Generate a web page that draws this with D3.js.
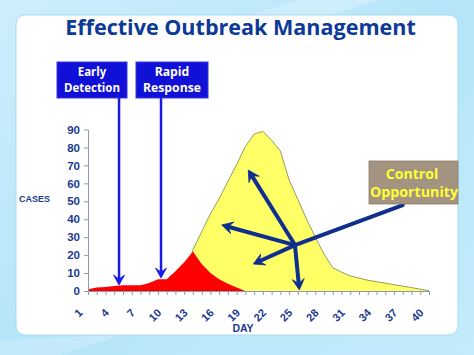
<!DOCTYPE html>
<html><head><meta charset="utf-8">
<script src="https://cdn.jsdelivr.net/npm/d3@7"></script>
<style>
html,body{margin:0;padding:0;overflow:hidden;background:#bfe8f9;}
svg{display:block;}
</style>
</head><body>
<svg id="chart" width="474" height="355"></svg>
<script>
// ---------------- DATA ----------------
const days = [1,2,3,4,5,6,7,8,9,10,11,12,13,14,15,16,17,18,19,20,
              21,22,23,24,25,26,27,28,29,30,31,32,33,34,35,36,37,38,39,40];
// red: cases with early detection & rapid response
const controlledCases = [1,2,2.2,2.8,3.2,3.2,3.2,4.4,6.5,6.5,11,16,22,15,10,6.5,4,2,0,0,
                         0,0,0,0,0,0,0,0,0,0,0,0,0,0,0,0,0,0,0,0];
// yellow: uncontrolled outbreak (hidden under red before day 13)
const uncontrolledCases = [0,0,0,0,0,0,0,0,0,0,0,0,23,33,43,51.5,61,70.5,80.5,87.5,
                           89,84,78,62,51,40,30,20.5,13,10.5,8.4,7.2,6,5.2,4.4,3.5,2.7,1.9,1,0.2];
const yTicks = [0,10,20,30,40,50,60,70,80,90];
const xTickLabels = [1,4,7,10,13,16,19,22,25,28,31,34,37,40];
const titleText = "Effective Outbreak Management";
const earlyDetection = {day:4.55, value:3.3, lines:["Early","Detection"]};
const rapidResponse  = {day:9.35, value:7.2, lines:["Rapid","Response"]};
const controlHub = {day:24.67, value:25.6};
const controlTips = [
  {day:19.33, value:67.4},
  {day:16.29, value:36.8},
  {day:19.90, value:15.05},
  {day:25.17, value:0.56}
];
const controlSource = {day:37.0, value:47.9};
const controlLabel = ["Control","Opportunity"];

// ---------------- SETUP ----------------
const svg = d3.select("#chart");
const navy = "#1b3a8f";
const defs = svg.append("defs");
const bg = defs.append("linearGradient").attr("id","bgGrad")
  .attr("x1","0").attr("y1","0").attr("x2","1").attr("y2","1");
bg.append("stop").attr("offset","0").attr("stop-color","#cdeefc");
bg.append("stop").attr("offset","0.5").attr("stop-color","#b5e5f9");
bg.append("stop").attr("offset","1").attr("stop-color","#c3ebfb");

svg.append("rect").attr("width",474).attr("height",355).attr("fill","url(#bgGrad)");
// soft highlight bands
svg.append("path").attr("d","M300,0 L380,0 L330,15 L250,15 Z").attr("fill","#ffffff").attr("opacity",0.25);
svg.append("path").attr("d","M0,340 L120,335 L60,355 L0,355 Z").attr("fill","#ffffff").attr("opacity",0.2);
// white panel
svg.append("rect").attr("x",16).attr("y",15).attr("width",442).attr("height",320)
  .attr("rx",9).attr("fill","#ffffff").attr("stroke","#a9d9ee").attr("stroke-width",1);

function fitText(sel, target){
  const n = sel.node();
  const fs = parseFloat(sel.attr("font-size"));
  const w = n.getComputedTextLength();
  if (w>0) sel.attr("font-size", fs*target/w);
  return sel;
}

// Title
const title = svg.append("text").attr("x",240.5).attr("y",35).attr("text-anchor","middle")
  .attr("font-family","'Open Sans','Noto Sans',sans-serif").attr("font-weight","bold")
  .attr("font-size",22).attr("fill","#0d3a96").text(titleText);
fitText(title, 351);

// ---------------- SCALES ----------------
const x = d3.scaleLinear().domain([1,40]).range([88,429]);
const y = d3.scaleLinear().domain([0,90]).range([291,129.5]);

// ---------------- AREAS ----------------
const yellowArea = d3.area().x((d,i)=>x(days[i])).y0(y(0)).y1(d=>y(d));
const yellowLine = d3.line().x((d,i)=>x(days[i])).y(d=>y(d));
svg.append("path").datum(uncontrolledCases).attr("d",yellowArea).attr("fill","#ffff66");
svg.append("path").datum(uncontrolledCases).attr("d",yellowLine).attr("fill","none")
  .attr("stroke","#8c8c5a").attr("stroke-width",0.9);
svg.append("path").datum(controlledCases).attr("d",yellowArea).attr("fill","#ff0000");

// ---------------- AXES ----------------
const axisColor = "#8d99ad";
const yAxis = svg.append("g").attr("transform",`translate(${x(1)},0)`)
  .call(d3.axisLeft(y).tickValues(yTicks).tickSize(4).tickSizeOuter(0).tickPadding(4));
yAxis.select(".domain").attr("stroke",axisColor);
yAxis.selectAll(".tick line").attr("stroke",axisColor);
yAxis.selectAll(".tick text").attr("fill",navy)
  .attr("font-family","'Liberation Sans',Arial,sans-serif").attr("font-weight","bold")
  .attr("font-size",11.5).attr("x",-8);

const xAxis = svg.append("g").attr("transform",`translate(0,${y(0)})`)
  .call(d3.axisBottom(x).tickValues(days).tickSize(4).tickSizeOuter(0)
        .tickFormat(d=> xTickLabels.includes(d) ? String(d) : ""));
xAxis.select(".domain").attr("stroke",axisColor);
xAxis.selectAll(".tick line").attr("stroke",axisColor);
xAxis.selectAll(".tick text").attr("fill",navy)
  .attr("font-family","'Liberation Sans',Arial,sans-serif").attr("font-weight","bold")
  .attr("font-size",11).attr("text-anchor","end")
  .attr("x",0).attr("y",0).attr("dy","0.8em")
  .attr("transform","translate(-11.4,16.3) rotate(-45)");

svg.append("text").attr("x",243).attr("y",332).attr("text-anchor","middle")
  .attr("font-family","'Liberation Sans',Arial,sans-serif").attr("font-weight","bold")
  .attr("font-size",10.5).attr("fill",navy).text("DAY");
const cases = svg.append("text").attr("x",34.5).attr("y",202).attr("text-anchor","middle")
  .attr("font-family","'Liberation Sans',Arial,sans-serif").attr("font-weight","bold")
  .attr("font-size",10).attr("fill",navy).text("CASES");
fitText(cases, 31);

// ---------------- ARROWS ----------------
function arrow(x1,y1,x2,y2,color,w,hl,hw){
  const dx=x2-x1, dy=y2-y1, L=Math.hypot(dx,dy), ux=dx/L, uy=dy/L, nx=-uy, ny=ux;
  const bx=x2-ux*hl, by=y2-uy*hl;
  const nxp=x2-ux*hl*0.6, nyp=y2-uy*hl*0.6;
  svg.append("line").attr("x1",x1).attr("y1",y1).attr("x2",nxp).attr("y2",nyp)
    .attr("stroke",color).attr("stroke-width",w);
  svg.append("path").attr("d",`M${x2},${y2} L${bx+nx*hw/2},${by+ny*hw/2} L${nxp},${nyp} L${bx-nx*hw/2},${by-ny*hw/2} Z`)
    .attr("fill",color).attr("stroke",color).attr("stroke-width",0.8).attr("stroke-linejoin","round");
}

// Early detection / rapid response boxes
function blueBox(bx,bw,info,textW){
  svg.append("rect").attr("x",bx).attr("y",62).attr("width",bw).attr("height",36)
    .attr("fill","#1010d6").attr("stroke","#3a3ae8").attr("stroke-width",1);
  const cx = bx+bw/2;
  const t1 = svg.append("text").attr("x",cx).attr("y",75.5).attr("text-anchor","middle")
    .attr("font-family","'Open Sans','Noto Sans',sans-serif").attr("font-weight","bold")
    .attr("font-size",11).attr("fill","#ffffff").text(info.lines[0]);
  const t2 = svg.append("text").attr("x",cx).attr("y",91.5).attr("text-anchor","middle")
    .attr("font-family","'Open Sans','Noto Sans',sans-serif").attr("font-weight","bold")
    .attr("font-size",11).attr("fill","#ffffff").text(info.lines[1]);
  fitText(t2, textW);
  t1.attr("font-size", t2.attr("font-size"));
  arrow(x(info.day),98,x(info.day),y(info.value),"#1a1ae6",2.5,10,11);
}
blueBox(57,70,earlyDetection,56);
blueBox(136,72,rapidResponse,58);

// control opportunity arrows
const dark = "#0f2f8e";
const hx = x(controlHub.day), hy = y(controlHub.value);
svg.append("line").attr("x1",x(controlSource.day)).attr("y1",y(controlSource.value))
  .attr("x2",hx).attr("y2",hy).attr("stroke",dark).attr("stroke-width",4).attr("stroke-linecap","round");
controlTips.forEach(t=>arrow(hx,hy,x(t.day),y(t.value),dark,4,11,12));

// control opportunity box
svg.append("rect").attr("x",369).attr("y",161).attr("width",89).attr("height",43)
  .attr("fill","#a39481").attr("stroke","#8a7c6b").attr("stroke-width",0.8);
const c1 = svg.append("text").attr("x",412).attr("y",179.3).attr("text-anchor","middle")
  .attr("font-family","'Open Sans','Noto Sans',sans-serif").attr("font-weight","bold")
  .attr("font-size",14).attr("fill","#ffff33").text(controlLabel[0]);
const c2 = svg.append("text").attr("x",414).attr("y",197).attr("text-anchor","middle")
  .attr("font-family","'Open Sans','Noto Sans',sans-serif").attr("font-weight","bold")
  .attr("font-size",14).attr("fill","#ffff33").text(controlLabel[1]);
fitText(c2, 88);
fitText(c1, 52.6);
</script>
</body></html>
